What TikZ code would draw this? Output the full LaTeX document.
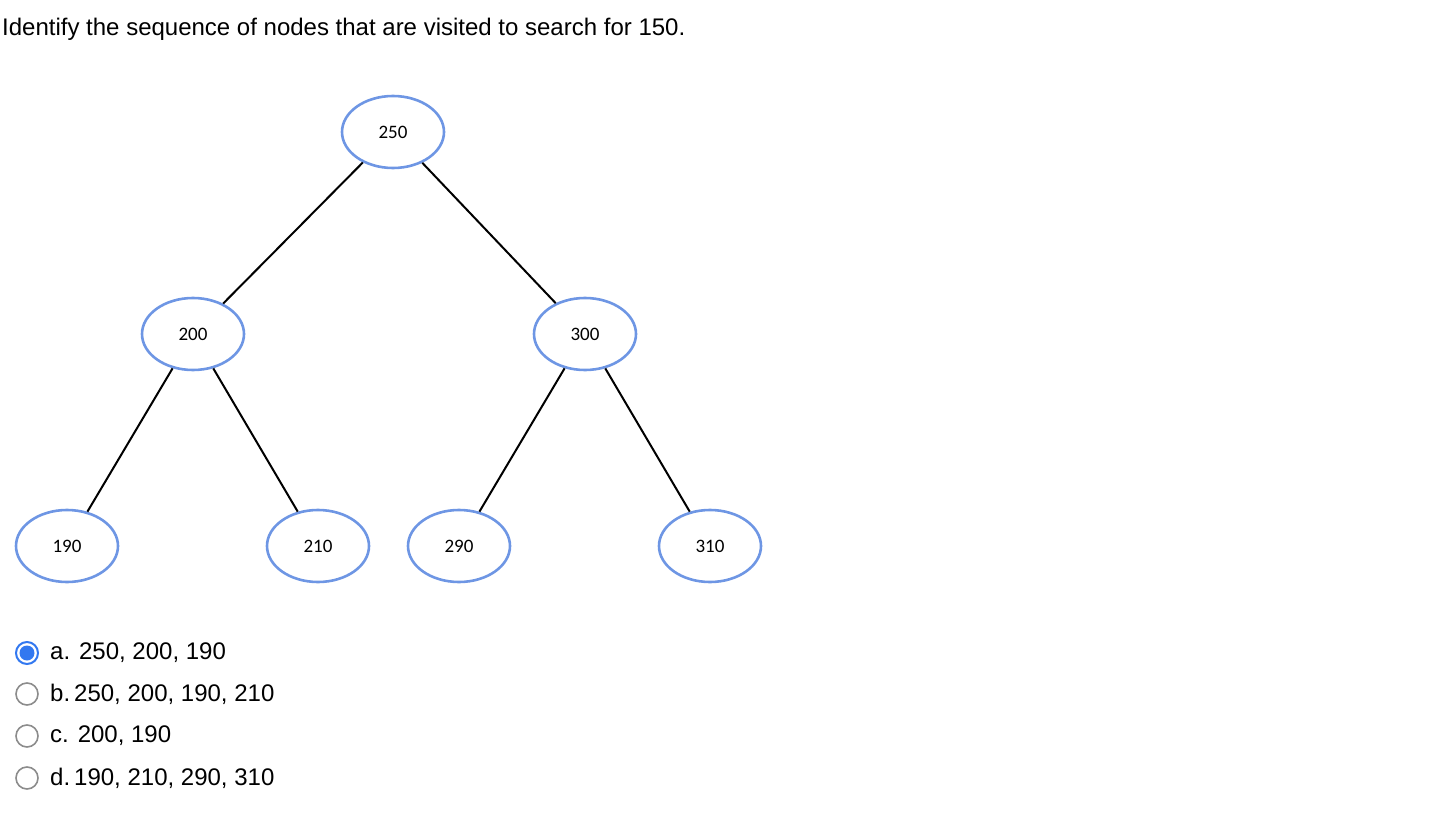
\documentclass[tikz,border=0pt]{standalone}
\usepackage{fontspec}
\setmainfont{Liberation Sans}
\newfontfamily\nodefont{Carlito}
\usetikzlibrary{shapes.geometric}
\definecolor{nodeblue}{RGB}{110,150,228}
\definecolor{radioblue}{RGB}{50,120,240}
\begin{document}
\begin{tikzpicture}[x=1pt,y=-1pt,
  tnode/.style={ellipse,draw=nodeblue,line width=2.6pt,minimum width=102pt,minimum height=72pt,inner sep=0pt,font=\nodefont\fontsize{19}{22}\selectfont},
  edge/.style={line width=2pt,black},
  opt/.style={anchor=west,inner sep=0pt,font=\fontsize{24}{28}\selectfont},
  radio/.style={circle,draw=gray!90,line width=1.6pt,minimum size=22pt,inner sep=0pt}]
\useasboundingbox (0,0) rectangle (1436,816);
\node[anchor=west,inner sep=0pt,font=\fontsize{24}{28}\selectfont] (title) at (2,29) {Identify the sequence of nodes that are visited to search for 150.};
\node[tnode] (n250) at (393,132) {250};
\node[tnode] (n200) at (193,334) {200};
\node[tnode] (n300) at (585,334) {300};
\node[tnode] (n190) at (67,546) {190};
\node[tnode] (n210) at (318,546) {210};
\node[tnode] (n290) at (459,546) {290};
\node[tnode] (n310) at (710,546) {310};
\draw[edge] (n250) -- (n200);
\draw[edge] (n250) -- (n300);
\draw[edge] (n200) -- (n190);
\draw[edge] (n200) -- (n210);
\draw[edge] (n300) -- (n290);
\draw[edge] (n300) -- (n310);
\node[radio,draw=radioblue,line width=2pt] (ra) at (27,653) {};
\fill[radioblue] (ra.center) circle (7.5);
\node[radio] (rb) at (27,694) {};
\node[radio] (rc) at (27,736) {};
\node[radio] (rd) at (27,778) {};
\node[opt] (oa) at (50,653) {a. 250, 200, 190};
\node[opt] (ob) at (50,694) {b.\,250, 200, 190, 210};
\node[opt] (oc) at (50,736) {c. 200, 190};
\node[opt] (od) at (50,778) {d.\,190, 210, 290, 310};
\end{tikzpicture}
\end{document}
